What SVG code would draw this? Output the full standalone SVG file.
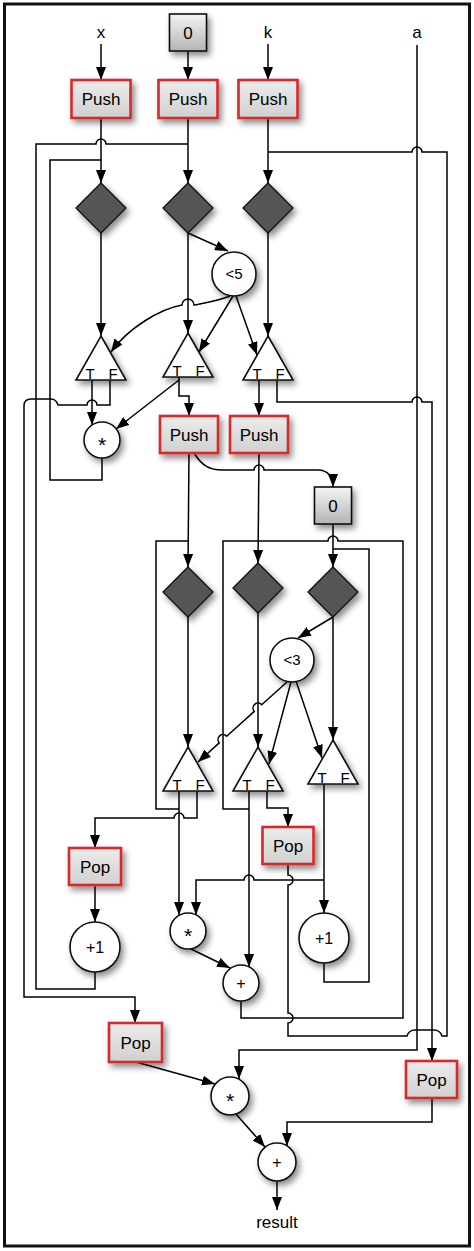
<svg xmlns="http://www.w3.org/2000/svg" width="474" height="1251" viewBox="0 0 474 1251">
<defs>
<filter id="sh" x="-40%" y="-40%" width="190%" height="190%"><feDropShadow dx="3" dy="4" stdDeviation="3" flood-color="#000" flood-opacity="0.45"/></filter>
<linearGradient id="gPush" x1="0" y1="0" x2="0" y2="1"><stop offset="0" stop-color="#ececec"/><stop offset="1" stop-color="#d0d0d0"/></linearGradient>
<linearGradient id="gZero" x1="0" y1="0" x2="0" y2="1"><stop offset="0" stop-color="#f4f4f4"/><stop offset="1" stop-color="#b4b4b4"/></linearGradient>
<marker id="ah" viewBox="0 0 13 10" refX="13" refY="5" markerWidth="13" markerHeight="10" markerUnits="userSpaceOnUse" orient="auto"><path d="M0,0 L13,5 L0,10 z" fill="#000"/></marker>
</defs>
<style>
.frame{fill:#fff;stroke:#111;stroke-width:3}
.c{fill:none;stroke:#000;stroke-width:1.5}
.a{marker-end:url(#ah)}
.stack{fill:url(#gPush);stroke:#d52b2b;stroke-width:2.6;filter:url(#sh)}
.zero{fill:url(#gZero);stroke:#111;stroke-width:1.6;filter:url(#sh)}
.dia{fill:#555;stroke:#111;stroke-width:1.3;filter:url(#sh)}
.op{fill:#fff;stroke:#111;stroke-width:1.6;filter:url(#sh)}
text{font-family:"Liberation Sans",Arial,sans-serif;fill:#000;text-anchor:middle}
.l{font-size:17px}
.s{font-size:15px}
.tf{font-size:15px}
.st{font-size:21px}
.p{font-size:16px}
</style>
<rect class="frame" x="4.5" y="4" width="465" height="1242"/>

<g id="connectors">
<path class="c a" d="M101,44 L101,80"/>
<path class="c a" d="M188,51 L188,80"/>
<path class="c a" d="M268,44 L268,80"/>
<path class="c a" d="M101,118 L101,183"/>
<path class="c a" d="M188,118 L188,183"/>
<path class="c a" d="M268,118 L268,183"/>
<path class="c" d="M95,972 L95,989 L36,989 L36,144 L96,144 a5,5 0 0 1 10,0 L188,144"/>
<path class="c" d="M102,458 L102,480 L50,480 L50,160 L101,160"/>
<path class="c" d="M288,864 L288,875 a5,5 0 0 1 0,10 L288,1013 a5,5 0 0 1 0,10 L288,1036 L407,1036 Q409,1030 415,1030 L434,1030 Q440,1030 442,1036 L447,1036 L447,152 L422,152 a5,5 0 0 0 -10,0 L268,152"/>
<path class="c a" d="M101,233 L101,336"/>
<path class="c a" d="M188,233 L188,333"/>
<path class="c a" d="M268,233 L268,336"/>
<path class="c a" d="M188,233 L228,251"/>
<path class="c a" d="M230,296 C218,301 204,303 194,305 a6,6 0 0 0 -12,0 C160,309 128,328 111,352"/>
<path class="c a" d="M233,296 L199,352"/>
<path class="c a" d="M236,296 L257,355"/>
<path class="c a" d="M92,380 L92,425"/>
<path class="c a" d="M110,380 L110,405 L97,405 a5,5 0 0 0 -10,0 L58,405 Q56,399 51,399 L31,399 Q24,399 24,406 L24,997 L135,997 L135,1023"/>
<path class="c a" d="M179,377 L179,396 L189,396 L189,416"/>
<path class="c a" d="M179,380 L116,429"/>
<path class="c a" d="M259,380 L259,416"/>
<path class="c a" d="M277,380 L277,402 L412,402 a5,5 0 0 1 10,0 L432,402 L432,1061"/>
<path class="c a" d="M189,453 L188,567"/>
<path class="c a" d="M259,453 L258,563"/>
<path class="c a" d="M194,453 C202,466 210,470 222,470 L254,470 a5,5 0 0 1 10,0 L318,470 C327,470 333,476 333,487"/>
<path class="c a" d="M333,524 L333,567"/>
<path class="c" d="M179,809 L156,809 L156,541 L188,541"/>
<path class="c" d="M249,809 L223,809 L223,541 L328,541 a5,5 0 0 1 10,0 L403,541 L403,1018 L241,1018 L241,1001"/>
<path class="c" d="M324,963 L324,982 L369,982 L369,549 L333,549"/>
<path class="c a" d="M188,617 L188,747"/>
<path class="c a" d="M258,613 L258,747"/>
<path class="c a" d="M333,617 L333,740"/>
<path class="c a" d="M333,617 L298,638"/>
<path class="c a" d="M287,682 L261.7,704.7 a5,5 0 0 0 -7.44,6.68 L226.7,736.2 a5,5 0 0 0 -7.44,6.68 L198,762"/>
<path class="c a" d="M291,682 L269,764"/>
<path class="c a" d="M296,681 L322,758"/>
<path class="c a" d="M179,791 L179,915"/>
<path class="c a" d="M197,791 L197,818 L184,818 a5,5 0 0 0 -10,0 L95,818 L95,848"/>
<path class="c a" d="M249,791 L249,967"/>
<path class="c a" d="M267,791 L267,808 L288,808 L288,827"/>
<path class="c a" d="M324,784 L324,913"/>
<path class="c a" d="M324,880 L254,880 a5,5 0 0 0 -10,0 L196,880 L196,915"/>
<path class="c a" d="M95,885 L95,922"/>
<path class="c a" d="M191,949 L230,968"/>
<path class="c a" d="M136,1062 L215,1084"/>
<path class="c a" d="M417,45 L417,1050 L239,1050 L239,1079"/>
<path class="c a" d="M236,1114 L265,1147"/>
<path class="c a" d="M432,1098 L432,1122 L287,1122 L287,1146"/>
<path class="c a" d="M277,1181 L277,1210"/>
</g>

<g id="in-x"><text class="l" x="101" y="38">x</text></g>
<g id="in-k"><text class="l" x="268" y="38">k</text></g>
<g id="in-a"><text class="l" x="417" y="38">a</text></g>
<g id="zero1"><rect class="zero" x="169.5" y="14" width="37" height="37"/><text class="l" x="188" y="38.5">0</text></g>
<g id="push1"><rect class="stack" x="71.5" y="80" width="59" height="38"/><text class="l" x="101" y="105">Push</text></g>
<g id="push2"><rect class="stack" x="158.5" y="80" width="59" height="38"/><text class="l" x="188" y="105">Push</text></g>
<g id="push3"><rect class="stack" x="238.5" y="80" width="59" height="38"/><text class="l" x="268" y="105">Push</text></g>
<g id="d1"><polygon class="dia" points="101,183 126,208 101,233 76,208"/></g>
<g id="d2"><polygon class="dia" points="188,183 213,208 188,233 163,208"/></g>
<g id="d3"><polygon class="dia" points="268,183 293,208 268,233 243,208"/></g>
<g id="lt5"><circle class="op" cx="234" cy="274" r="22"/><text class="s" x="234" y="279">&lt;5</text></g>
<g id="t1"><polygon class="op" points="101,336 126,380 76,380"/><text class="tf" x="90" y="379">T</text><text class="tf" x="113" y="379">F</text></g>
<g id="t2"><polygon class="op" points="188,333 213,377 163,377"/><text class="tf" x="177" y="376">T</text><text class="tf" x="200" y="376">F</text></g>
<g id="t3"><polygon class="op" points="268,336 293,380 243,380"/><text class="tf" x="257" y="379">T</text><text class="tf" x="280" y="379">F</text></g>
<g id="mul1"><circle class="op" cx="102" cy="440" r="18"/><text class="st" x="102" y="452">*</text></g>
<g id="pushA"><rect class="stack" x="160" y="416" width="58" height="37"/><text class="l" x="189" y="441">Push</text></g>
<g id="pushB"><rect class="stack" x="230" y="416" width="58" height="37"/><text class="l" x="259" y="441">Push</text></g>
<g id="zero2"><rect class="zero" x="314.5" y="487" width="37" height="37"/><text class="l" x="333" y="511.5">0</text></g>
<g id="d4"><polygon class="dia" points="188,567 213,592 188,617 163,592"/></g>
<g id="d5"><polygon class="dia" points="258,563 283,588 258,613 233,588"/></g>
<g id="d6"><polygon class="dia" points="333,567 358,592 333,617 308,592"/></g>
<g id="lt3"><circle class="op" cx="292" cy="660" r="22"/><text class="s" x="292" y="665">&lt;3</text></g>
<g id="t4"><polygon class="op" points="188,747 213,791 163,791"/><text class="tf" x="177" y="790">T</text><text class="tf" x="200" y="790">F</text></g>
<g id="t5"><polygon class="op" points="258,747 283,791 233,791"/><text class="tf" x="247" y="790">T</text><text class="tf" x="270" y="790">F</text></g>
<g id="t6"><polygon class="op" points="333,740 358,784 308,784"/><text class="tf" x="322" y="783">T</text><text class="tf" x="345" y="783">F</text></g>
<g id="popL"><rect class="stack" x="69" y="848" width="52" height="37"/><text class="l" x="95" y="872.5">Pop</text></g>
<g id="popM"><rect class="stack" x="262.5" y="827" width="51" height="37"/><text class="l" x="288" y="851.5">Pop</text></g>
<g id="inc1"><circle class="op" cx="95" cy="947" r="25"/><text class="p" x="95" y="953">+1</text></g>
<g id="mul2"><circle class="op" cx="188" cy="931" r="18"/><text class="st" x="188" y="943">*</text></g>
<g id="add2"><circle class="op" cx="241" cy="983" r="18"/><text class="p" x="241" y="989">+</text></g>
<g id="inc2"><circle class="op" cx="324" cy="938" r="25"/><text class="p" x="324" y="944">+1</text></g>
<g id="popBL"><rect class="stack" x="109" y="1023" width="53" height="39"/><text class="l" x="135.5" y="1048.5">Pop</text></g>
<g id="popR"><rect class="stack" x="406" y="1061" width="51" height="37"/><text class="l" x="431.5" y="1085.5">Pop</text></g>
<g id="mul3"><circle class="op" cx="230" cy="1096" r="19"/><text class="st" x="230" y="1108">*</text></g>
<g id="add3"><circle class="op" cx="277" cy="1162" r="19"/><text class="p" x="277" y="1168">+</text></g>
<g id="out"><text class="l" x="277" y="1228">result</text></g>
</svg>
